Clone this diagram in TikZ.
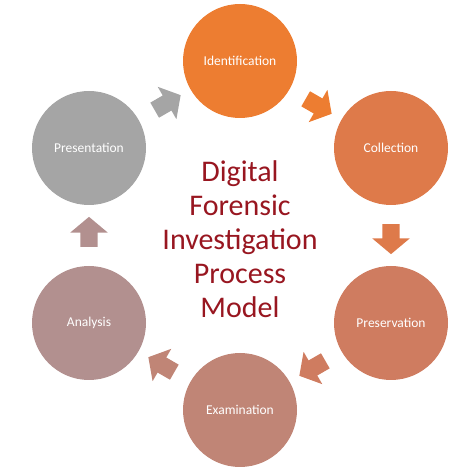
\documentclass[tikz,border=0pt]{standalone}
\usepackage{fontspec}
\setmainfont{Carlito}
\usetikzlibrary{shapes.arrows,calc}
\definecolor{identc}{RGB}{237,125,49}
\definecolor{collc}{RGB}{222,122,74}
\definecolor{preservc}{RGB}{207,124,96}
\definecolor{examc}{RGB}{192,133,118}
\definecolor{analc}{RGB}{178,144,143}
\definecolor{presentc}{RGB}{165,165,165}
\definecolor{titlec}{RGB}{152,22,32}

\begin{document}
\begin{tikzpicture}[x=1pt,y=1pt, every node/.style={font=\fontsize{13.5}{16}\selectfont},
  stage/.style={circle,minimum size=114pt,inner sep=0pt,text=white},
  blockarrow/.style={single arrow,minimum height=30pt,inner sep=8.5pt,single arrow head extend=10pt,single arrow tip angle=100}]
\useasboundingbox (0,0) rectangle (474,474);
\node[stage,fill=identc] (ident) at (240,413) {Identification};
\node[stage,fill=collc] (coll) at (391,326) {Collection};
\node[stage,fill=preservc] (preserv) at (391,151) {Preservation};
\node[stage,fill=examc] (exam) at (240,64) {Examination};
\node[stage,fill=analc] (anal) at (89,151) {Analysis};
\node[stage,fill=presentc] (present) at (89,326) {Presentation};
\node[blockarrow,fill=presentc,rotate=30] (a1) at ($(present)!0.5!(ident)$) {};
\node[blockarrow,fill=identc,rotate=-30] (a2) at ($(ident)!0.5!(coll)$) {};
\node[blockarrow,fill=collc,rotate=-90] (a3) at ($(coll)!0.5!(preserv)$) {};
\node[blockarrow,fill=preservc,rotate=210] (a4) at ($(preserv)!0.5!(exam)$) {};
\node[blockarrow,fill=examc,rotate=150] (a5) at ($(exam)!0.5!(anal)$) {};
\node[blockarrow,fill=analc,rotate=90] (a6) at ($(anal)!0.5!(present)$) {};
\node[text=titlec,align=center,font=\fontsize{30}{34}\selectfont] (title) at (240,235) {Digital\\Forensic\\Investigation\\Process\\Model};
\end{tikzpicture}
\end{document}
